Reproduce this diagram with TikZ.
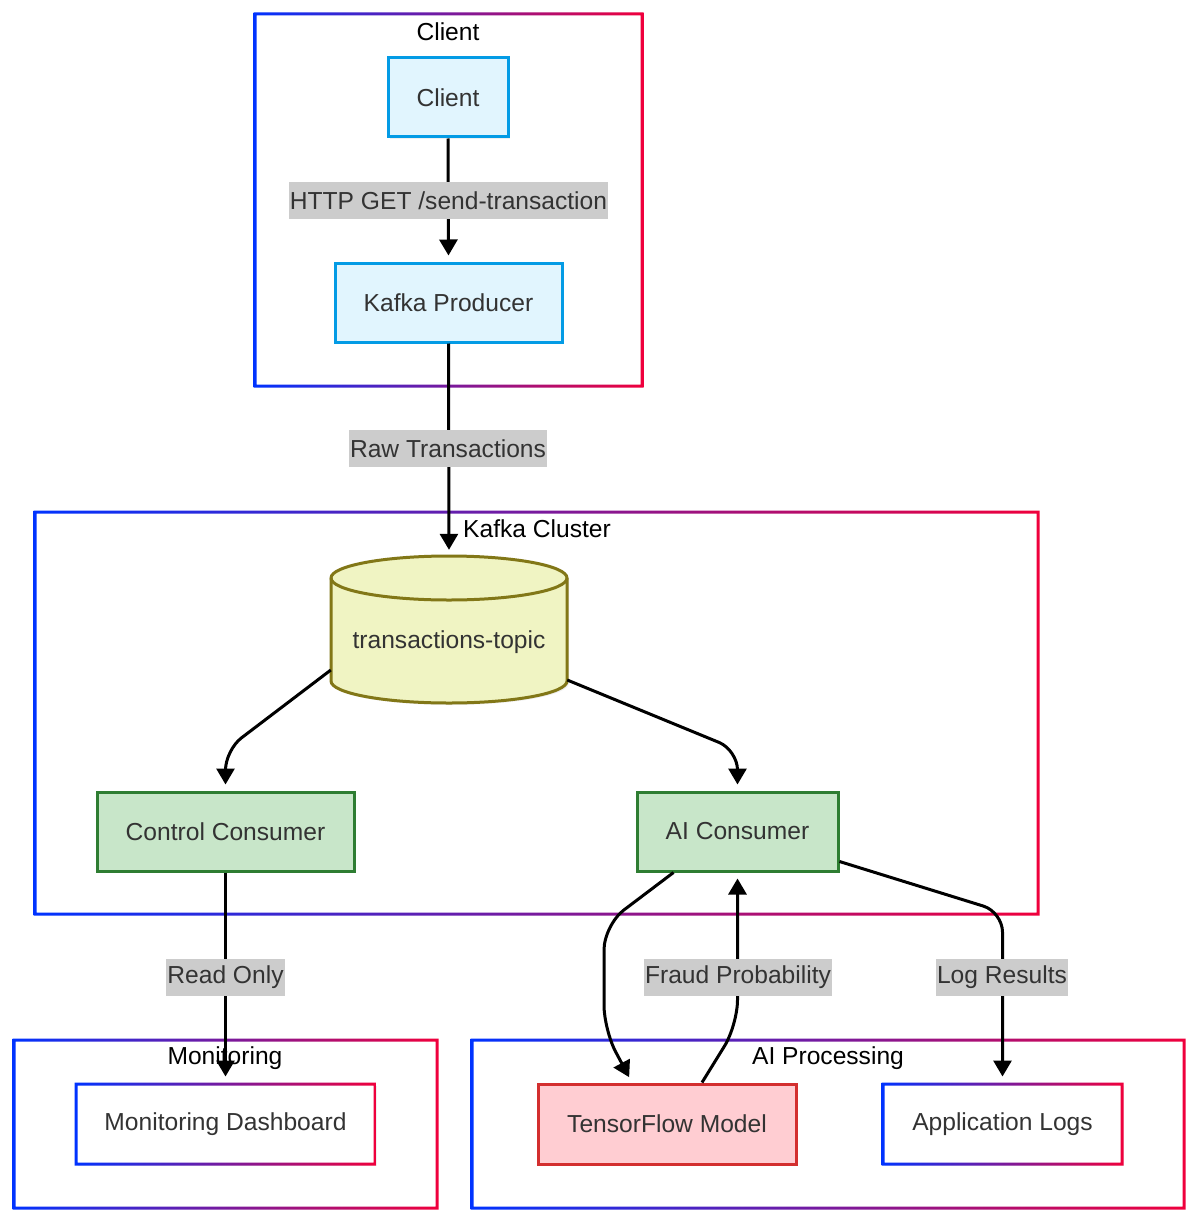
\documentclass[tikz,border=0pt]{standalone}
\usepackage{fontspec}
\setmainfont{Liberation Sans}
\usetikzlibrary{arrows.meta,shadows,calc}
\definecolor{gblue}{RGB}{0,51,255}
\definecolor{gred}{RGB}{240,0,60}
\definecolor{bfill}{HTML}{E1F5FE}
\definecolor{bline}{HTML}{039BE5}
\definecolor{gfill}{HTML}{C8E6C9}
\definecolor{gline}{HTML}{2E7D32}
\definecolor{rfill}{HTML}{FFCDD2}
\definecolor{rline}{HTML}{D32F2F}
\definecolor{yfill}{HTML}{F0F4C3}
\definecolor{yline}{HTML}{827717}
\definecolor{lblbg}{HTML}{CCCCCC}
\definecolor{txt}{HTML}{333333}
\newcommand\dfont{\fontsize{24.6}{29}\selectfont}
\tikzset{
  base/.style={rectangle, line width=3pt, inner sep=0pt, font=\dfont, text=txt,
    drop shadow={shadow xshift=2pt, shadow yshift=-2pt, opacity=0.12}},
  bluebox/.style={base, draw=bline, fill=bfill},
  greenbox/.style={base, draw=gline, fill=gfill},
  redbox/.style={base, draw=rline, fill=rfill},
  whitebox/.style={base, fill=white},
  lbl/.style={rectangle, fill=lblbg, text=txt, font=\dfont, inner xsep=1pt, inner ysep=0pt, minimum height=37pt},
  title/.style={font=\dfont, text=black, inner sep=0pt},
  arr/.style={line width=3pt, -{Triangle[length=16pt,width=18pt]}, shorten >=6pt},
  gframe/.style={left color=gblue, right color=gred, even odd rule},
}
\newcommand\gradrect[4]{\shade[gframe] (#1-1.5,#2-1.5) rectangle (#3+1.5,#4+1.5) (#1+1.5,#2+1.5) rectangle (#3-1.5,#4-1.5);}
\begin{document}
\begin{tikzpicture}[x=1pt,y=-1pt]
\useasboundingbox (0,0) rectangle (1200,1225);
\fill[white] (0,0) rectangle (1200,1225);
% clusters
\gradrect{255}{14}{642}{386}
\gradrect{35}{512}{1038}{914}
\gradrect{14}{1040}{437}{1208}
\gradrect{472}{1040}{1184}{1208}
% titles
\node[title] (tClient) at (448,32) {Client};
\node[title] (tKafka) at (537,529) {Kafka Cluster};
\node[title] (tMon) at (225,1058) {Monitoring};
\node[title] (tAI) at (828,1058) {AI Processing};
% cylinder
\filldraw[fill=yfill, draw=yline, line width=3pt, drop shadow={shadow xshift=2pt, shadow yshift=-2pt, opacity=0.12}]
  (331,578) -- (331,681) arc[start angle=180, end angle=0, x radius=118, y radius=22]
  -- (567,578) arc[start angle=0, end angle=-180, x radius=118, y radius=22] -- cycle;
\draw[draw=yline, line width=3pt] (331,578) arc[start angle=180, end angle=0, x radius=118, y radius=22];
% nodes
\node[bluebox, minimum width=120, minimum height=79] (client) at (448,97.5) {Client};
\node[bluebox, minimum width=227, minimum height=79] (producer) at (448.5,302.5) {Kafka Producer};
\node[rectangle, inner sep=0pt, minimum width=236, minimum height=172, font=\dfont, text=txt] (topic) at (449,642) {transactions-topic};
\node[greenbox, minimum width=257, minimum height=79] (ctrl) at (225.5,831.5) {Control Consumer};
\node[greenbox, minimum width=201, minimum height=79] (ai) at (737.5,831.5) {AI Consumer};
\node[whitebox, minimum width=299, minimum height=80] (mon) at (225.5,1124) {Monitoring Dashboard};
\node[redbox, minimum width=258, minimum height=80] (tf) at (667,1124) {TensorFlow Model};
\node[whitebox, minimum width=239, minimum height=80] (logs) at (1002.5,1124) {Application Logs};
\gradrect{76}{1084}{375}{1164}
\gradrect{883}{1084}{1122}{1164}
% edges
\draw[arr] (client.south) -- (producer.north);
\draw[arr] (producer.south) -- (topic.north);
\draw[arr, rounded corners=20pt] ([yshift=-28pt]topic.west) -- (225.5,750) -- (ctrl.north);
\draw[arr, rounded corners=20pt] ([yshift=-38pt]topic.east) -- (737.5,750) -- (ai.north);
\draw[arr] (ctrl.south) -- (mon.north);
\draw[arr, rounded corners=25pt] ([xshift=-64pt]ai.south) -- (604,925) -- (604,1030) -- ([xshift=-35pt]tf.north);
\draw[arr, rounded corners=25pt] ([xshift=35pt]tf.north) -- (737.5,1025) -- (ai.south);
\draw[arr, rounded corners=20pt] ([yshift=-30pt]ai.east) -- (1002.5,912) -- (logs.north);
% labels
\node[lbl] (l1) at (448.5,200.5) {HTTP GET /send-transaction};
\node[lbl] (l2) at (448,448.5) {Raw Transactions};
\node[lbl] (l3) at (225.5,977.5) {Read Only};
\node[lbl] (l4) at (738,977.5) {Fraud Probability};
\node[lbl] (l5) at (1002,977.5) {Log Results};
\end{tikzpicture}
\end{document}
